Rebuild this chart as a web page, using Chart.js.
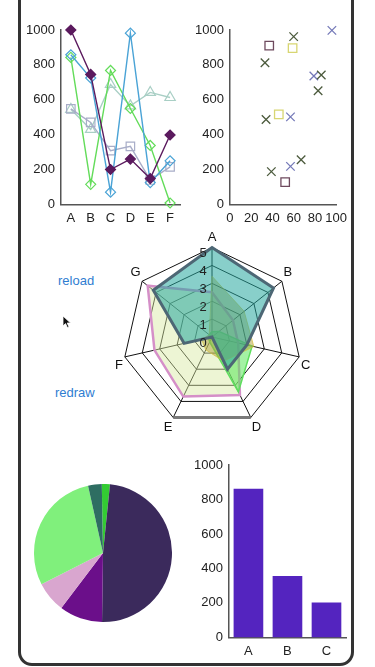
<!DOCTYPE html>
<html>
<head>
<meta charset="utf-8">
<script src="https://cdn.jsdelivr.net/npm/chart.js@4.4.1/dist/chart.umd.min.js"></script>
<style>
  html, body { margin: 0; padding: 0; background: #fff; width: 375px; height: 667px; overflow: hidden; font-family: "Liberation Sans", Arial, sans-serif; }
  .frame { position: absolute; left: 18px; top: -40px; width: 330px; height: 700px; border: 3px solid #333; border-radius: 14px; }
  canvas { position: absolute; }
  .lnk { position: absolute; color: #2f7dd1; font-size: 13px; }
  .cur { position: absolute; left: 62px; top: 315px; }
</style>
</head>
<body>
<div class="frame"></div>
<canvas id="c-line" width="176" height="222" style="left:14px;top:16px"></canvas>
<canvas id="c-scatter" width="168" height="222" style="left:185px;top:16px"></canvas>
<div class="lnk" style="left:58px;top:273px">reload</div>
<div class="lnk" style="left:55px;top:385px">redraw</div>
<svg class="cur" width="10" height="14" viewBox="0 0 10 14"><path d="M1 1 L1 11 L3.5 8.6 L5.4 12.6 L7 11.9 L5.2 8 L8.6 8 Z" fill="#111" stroke="#fff" stroke-width="0.8"/></svg>
<canvas id="c-radar" width="222" height="214" style="left:102px;top:225px"></canvas>
<canvas id="c-pie" width="138" height="138" style="left:34px;top:484px"></canvas>
<canvas id="c-bar" width="166" height="222" style="left:184px;top:449px"></canvas>
<script>
// ---- data ----
const lineLabels = ['A', 'B', 'C', 'D', 'E', 'F'];
const linePurple = [1000, 745, 200, 260, 148, 398];
const lineBlue = [858, 725, 70, 982, 125, 250];
const lineGreen = [843, 115, 768, 550, 338, 8];
const lineSquares = [548, 470, 308, 333, 140, 215];
const lineTriangles = [545, 430, 688, 565, 642, 613];

const scatterDark = [{ x: 60, y: 962 }, { x: 33, y: 812 }, { x: 86, y: 742 }, { x: 83, y: 652 }, { x: 34, y: 487 }, { x: 39, y: 188 }, { x: 67, y: 256 }];
const scatterBlue = [{ x: 96, y: 998 }, { x: 79, y: 736 }, { x: 57, y: 502 }, { x: 57, y: 218 }];
const scatterPlum = [{ x: 37, y: 910 }, { x: 52, y: 128 }];
const scatterYellow = [{ x: 59, y: 896 }, { x: 46, y: 516 }];
const yTicks1000 = [0, 200, 400, 600, 800, 1000];
const xTicks100 = [0, 20, 40, 60, 80, 100];

const radarLabels = ['A', 'B', 'C', 'D', 'E', 'F', 'G'];
const radarTeal = [5, 4.4, 2, 2, 0, 1.6, 4.2];
const radarOlive = [3.4, 2.3, 2.4, 1.5, 0.8, 0.6, 0.2];
const radarGreen = [0.3, 0.5, 2.3, 3.4, 0.3, 0.2, 0.2];
const radarPink = [2.5, 1.5, 1.5, 3.6, 3.7, 3.3, 4.6];
const radarGray = [null, null, null, 5, 5, null, null];

const pieLabels = ['g1', 'g2', 'g3', 'g4', 'g5', 'g6'];
const pieValues = [19, 486, 101, 72, 290, 32];
const pieColors = ['#33cc33', '#3b2a5c', '#6b0f8a', '#d9a6cf', '#80f07c', '#2e6e62'];

const barLabels = ['A', 'B', 'C'];
const barValues = [862, 356, 202];

// ---- common look ----
Chart.defaults.font.family = '"Liberation Sans", Arial, sans-serif';
Chart.defaults.font.size = 13;
Chart.defaults.color = '#222';
Chart.defaults.animation = false;
Chart.defaults.devicePixelRatio = 1;
Chart.defaults.plugins.legend.display = false;
Chart.defaults.plugins.tooltip.enabled = false;

const AXIS = '#555';
function plain(v) { return String(v); }
function fixedTicks(list) {
  return function (s) { s.ticks = list.map(function (v) { return { value: v }; }); };
}
function axis(extra) {
  return Object.assign({
    grid: { display: false, drawTicks: false },
    border: { display: true, color: AXIS, width: 1.5 },
    ticks: { color: '#222', padding: 6, maxRotation: 0, autoSkip: false, callback: plain },
  }, extra);
}
function catAxis(extra) {
  const a = axis(extra);
  a.ticks = { color: '#222', padding: 6, maxRotation: 0, autoSkip: false };
  return a;
}
const yAxis = axis({ min: 0, max: 1000, afterBuildTicks: fixedTicks(yTicks1000) });

function lineSet(data, color, style, filled, r) {
  return { data: data, borderColor: color, backgroundColor: filled ? color : 'rgba(255,255,255,0)', borderWidth: 1.4,
    pointStyle: style, pointRadius: r, pointBorderWidth: 1.2, tension: 0, clip: false };
}

new Chart(document.getElementById('c-line'), {
  type: 'line',
  data: { labels: lineLabels, datasets: [
    lineSet(linePurple, '#5b1a5e', 'rectRot', true, 5),
    lineSet(lineBlue, '#4aa3d6', 'rectRot', false, 5),
    lineSet(lineGreen, '#63dc5a', 'rectRot', false, 5),
    lineSet(lineSquares, '#a8adc8', 'rect', false, 6),
    lineSet(lineTriangles, '#a9cfc5', 'triangle', false, 6),
  ] },
  options: { responsive: false, layout: { padding: { left: 6, right: 10, top: 14, bottom: 6 } },
    scales: { x: catAxis({ offset: true }), y: yAxis } },
});

function scatterSet(data, color, style) {
  return { data: data, borderColor: color, backgroundColor: 'rgba(255,255,255,0)', pointStyle: style, pointRadius: 6, pointBorderWidth: 1.3, clip: false };
}
new Chart(document.getElementById('c-scatter'), {
  type: 'scatter',
  data: { datasets: [
    scatterSet(scatterDark, '#4b5a3c', 'crossRot'),
    scatterSet(scatterBlue, '#7479b8', 'crossRot'),
    scatterSet(scatterPlum, '#6e4a5e', 'rect'),
    scatterSet(scatterYellow, '#d8d672', 'rect'),
  ] },
  options: { responsive: false, layout: { padding: { left: 4, right: 16, top: 14, bottom: 6 } },
    scales: { x: axis({ min: 0, max: 100, afterBuildTicks: fixedTicks(xTicks100) }), y: yAxis } },
});

// radar tick labels drawn above the fills, a little left of the axis
const radarTicks = {
  id: 'radarTicks',
  afterDatasetsDraw: function (chart) {
    const s = chart.scales.r, c = chart.ctx;
    c.save();
    c.font = '13px "Liberation Sans", Arial, sans-serif';
    c.fillStyle = '#222'; c.textAlign = 'center'; c.textBaseline = 'middle';
    s.ticks.forEach(function (t) {
      c.fillText(t.label, s.xCenter - 9, s.yCenter - s.getDistanceFromCenterForValue(t.value) + 6);
    });
    c.restore();
  },
};
new Chart(document.getElementById('c-radar'), {
  type: 'radar',
  data: { labels: radarLabels, datasets: [
    { data: radarTeal, backgroundColor: 'rgba(38,168,158,0.55)', borderColor: '#4d6775', borderWidth: 3 },
    { data: radarOlive, backgroundColor: 'rgba(176,162,60,0.5)', borderColor: 'rgba(214,190,60,0.7)', borderWidth: 1 },
    { data: radarGreen, backgroundColor: 'rgba(90,232,90,0.55)', borderColor: '#5ede5e', borderWidth: 1.5 },
    { data: radarPink, backgroundColor: 'rgba(214,232,160,0.45)', borderColor: '#d58fc8', borderWidth: 2.5 },
    { data: radarGray, fill: false, spanGaps: false, borderColor: '#7a7a7a', borderWidth: 3 },
  ] },
  options: { responsive: false, layout: { padding: 0 },
    elements: { point: { radius: 0 }, line: { tension: 0 } },
    scales: { r: { min: 0, max: 5, ticks: { stepSize: 1, display: false },
      grid: { color: '#111', lineWidth: 1 }, angleLines: { color: '#111', lineWidth: 1 },
      pointLabels: { color: '#111', font: { size: 13 }, padding: 2 } } } },
  plugins: [radarTicks],
});

new Chart(document.getElementById('c-pie'), {
  type: 'pie',
  data: { labels: pieLabels, datasets: [{ data: pieValues, backgroundColor: pieColors, borderWidth: 0 }] },
  options: { responsive: false, rotation: -1, layout: { padding: 0 } },
});

new Chart(document.getElementById('c-bar'), {
  type: 'bar',
  data: { labels: barLabels, datasets: [{ data: barValues, backgroundColor: '#5424bf', barPercentage: 0.95, categoryPercentage: 0.8 }] },
  options: { responsive: false, layout: { padding: { left: 4, right: 4, top: 16, bottom: 6 } },
    scales: { x: catAxis({}), y: yAxis } },
});
</script>
</body>
</html>
